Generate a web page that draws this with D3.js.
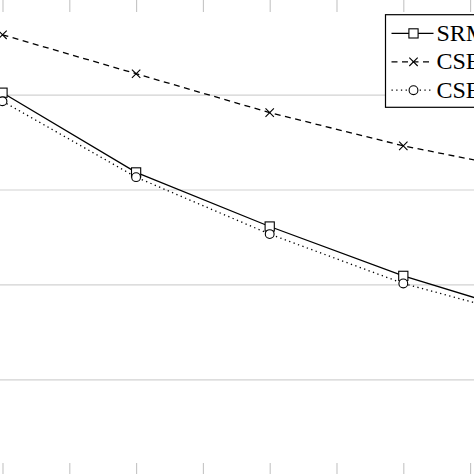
<!DOCTYPE html>
<html>
<head>
<meta charset="utf-8">
<script src="https://cdn.jsdelivr.net/npm/d3@7"></script>
<style>
  html, body { margin: 0; padding: 0; background: #fff; }
  svg { display: block; }
  .grid line { stroke: #d2d2d2; stroke-width: 1.2; }
  .tk line { stroke: #c4c4c4; stroke-width: 1.1; }
  .grid path, .tk path { display: none; }
  .tk text, .grid text { display: none; }
</style>
</head>
<body>
<svg id="chart" width="474" height="474"></svg>
<script>
// data (chart is cropped, axis labels not visible)
var xs = [2, 4, 6, 8, 10];
var srm = [4.02, 3.18, 2.61, 2.09, 1.66];
var cseX = [4.63, 4.22, 3.81, 3.46, 3.18];
var cseO = [3.93, 3.13, 2.53, 2.01, 1.63];
var xTicks = [2, 3, 4, 5, 6, 7, 8, 9];
var yTicks = [1, 2, 3, 4];
var labels = ['SRM', 'CSE', 'CSE'];

var W = 474, H = 474;
var svg = d3.select('#chart');

var x = d3.scaleLinear().domain([2, 9]).range([2.5, 2.5 + 7 * 66.8]);
var y = d3.scaleLinear().domain([1, 4]).range([379.3, 94.6]);

// horizontal grid
svg.append('g').attr('class', 'grid')
	.call(d3.axisLeft(y).tickValues(yTicks).tickSize(-W))
	.selectAll('line').attr('x1', 0).attr('x2', W);

// small ticks at top and bottom
svg.append('g').attr('class', 'tk')
	.call(d3.axisBottom(x).tickValues(xTicks).tickSize(12));
svg.append('g').attr('class', 'tk')
	.attr('transform', 'translate(0,' + H + ')')
	.call(d3.axisTop(x).tickValues(xTicks).tickSize(11));

var series = [
	{ name: labels[0], vals: srm, dash: null, mark: 'square' },
	{ name: labels[1], vals: cseX, dash: '6,4.5', mark: 'cross' },
	{ name: labels[2], vals: cseO, dash: '1.3,3.4', mark: 'circle' }
];

var line = d3.line()
	.x(function (d) { return x(d[0]); })
	.y(function (d) { return y(d[1]); });

function drawMark(g, type, cx, cy) {
	if (type == 'square') {
		g.append('rect').attr('x', cx - 4.6).attr('y', cy - 4.6)
			.attr('width', 9.2).attr('height', 9.2)
			.attr('fill', '#fff').attr('stroke', '#000').attr('stroke-width', 1.1);
	} else if (type == 'circle') {
		g.append('circle').attr('cx', cx).attr('cy', cy).attr('r', 4.4)
			.attr('fill', '#fff').attr('stroke', '#000').attr('stroke-width', 1.1);
	} else {
		var s = 4.2;
		g.append('path')
			.attr('d', 'M' + (cx - s) + ',' + (cy - s) + 'L' + (cx + s) + ',' + (cy + s) +
				'M' + (cx - s) + ',' + (cy + s) + 'L' + (cx + s) + ',' + (cy - s))
			.attr('stroke', '#000').attr('stroke-width', 1.1);
	}
}

series.forEach(function (s) {
	var pts = xs.map(function (v, i) { return [v, s.vals[i]]; });
	var g = svg.append('g');
	g.append('path').datum(pts)
		.attr('d', line)
		.attr('fill', 'none')
		.attr('stroke', '#000')
		.attr('stroke-width', 1.3)
		.attr('stroke-dasharray', s.dash);
	pts.forEach(function (p) { drawMark(g, s.mark, x(p[0]), y(p[1])); });
});

// legend (runs off the right edge like the original)
var lg = svg.append('g').attr('transform', 'translate(385.5,14.7)');
lg.append('rect').attr('width', 120).attr('height', 92.6)
	.attr('fill', '#fff').attr('stroke', '#000').attr('stroke-width', 1.2);
series.forEach(function (s, i) {
	var ly = 18.7 + i * 28.4;
	lg.append('line').attr('x1', 6).attr('x2', 48).attr('y1', ly).attr('y2', ly)
		.attr('stroke', '#000').attr('stroke-width', 1.3)
		.attr('stroke-dasharray', s.dash);
	drawMark(lg, s.mark, 28, ly);
	lg.append('text').attr('x', 51).attr('y', ly + 7.6)
		.attr('font-family', 'Liberation Serif, DejaVu Serif, serif')
		.attr('font-size', '24px')
		.text(s.name);
});
</script>
</body>
</html>
